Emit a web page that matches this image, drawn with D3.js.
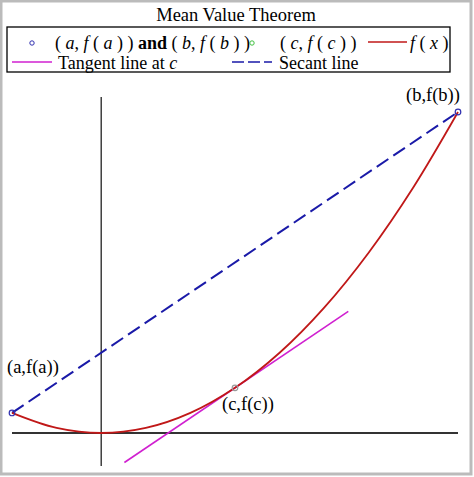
<!DOCTYPE html><html><head><meta charset="utf-8"><script src="https://cdn.jsdelivr.net/npm/d3@7"></script>
<style>body{margin:0;background:#fff}text{font-family:"Liberation Serif",serif;}</style></head><body><svg id="c" width="474" height="477"></svg><script>
const curveX=[-1,-0.5,0,0.5,1,1.5,2,2.5,3,3.5,4];
const curveY=[1,0.25,0,0.25,1,2.25,4,6.25,9,12.25,16];
const endpoints=[[-1,1],[4,16]];
const cpoint=[1.5,2.25];
const tangentX=[0.26,2.77], tangentSlope=3;
const svg=d3.select("#c");
const x=d3.scaleLinear().domain([-1,4]).range([12,458]);
const y=d3.scaleLinear().domain([0,16]).range([433,112]);
svg.append("rect").attr("x",1).attr("y",1).attr("width",470).attr("height",473).attr("fill","none").attr("stroke","#bbb").attr("stroke-width",3);
svg.append("line").attr("x1",x(0)).attr("x2",x(0)).attr("y1",97).attr("y2",466).attr("stroke","#222").attr("stroke-width",1.3);
svg.append("line").attr("x1",x(-1)).attr("x2",x(4)).attr("y1",y(0)).attr("y2",y(0)).attr("stroke","#333").attr("stroke-width",2);
svg.append("line").attr("x1",x(endpoints[0][0])).attr("y1",y(endpoints[0][1])).attr("x2",x(endpoints[1][0])).attr("y2",y(endpoints[1][1])).attr("stroke","#1a1aa8").attr("stroke-width",2).attr("stroke-dasharray","14,6");
svg.append("line").attr("x1",x(tangentX[0])).attr("y1",y(cpoint[1]+tangentSlope*(tangentX[0]-cpoint[0]))).attr("x2",x(tangentX[1])).attr("y2",y(cpoint[1]+tangentSlope*(tangentX[1]-cpoint[0]))).attr("stroke","#d020d0").attr("stroke-width",1.6);
svg.append("path").datum(curveX.map((d,i)=>[d,curveY[i]])).attr("d",d3.line().x(d=>x(d[0])).y(d=>y(d[1])).curve(d3.curveCatmullRom)).attr("fill","none").attr("stroke","#c01818").attr("stroke-width",1.8);
endpoints.forEach(p=>svg.append("circle").attr("cx",x(p[0])).attr("cy",y(p[1])).attr("r",2.8).attr("fill","none").attr("stroke","#3030b0").attr("stroke-width",1.2));
svg.append("circle").attr("cx",x(cpoint[0])).attr("cy",y(cpoint[1])).attr("r",2.8).attr("fill","none").attr("stroke","#999").attr("stroke-width",1.2);
const lab=(t,px,py)=>svg.append("text").attr("x",px).attr("y",py).attr("font-size",18.5).text(t);
lab("(a,f(a))",7,y(endpoints[0][1])-40);
lab("(b,f(b))",406,101);
lab("(c,f(c))",x(cpoint[0])-13,y(cpoint[1])+22);
svg.append("text").attr("x",236).attr("y",21).attr("text-anchor","middle").attr("font-size",18.5).text("Mean Value Theorem");
svg.append("rect").attr("x",7).attr("y",27).attr("width",443).attr("height",45).attr("fill","none").attr("stroke","#000").attr("stroke-width",1.3);
function math(g,parts,px,py){const t=g.append("text").attr("x",px).attr("y",py).attr("font-size",18).attr("xml:space","preserve");parts.forEach(([s,st])=>{const ts=t.append("tspan").text(s);if(st==="i")ts.attr("font-style","italic");if(st==="b")ts.attr("font-weight","bold");});}
svg.append("circle").attr("cx",32).attr("cy",43).attr("r",2.2).attr("fill","none").attr("stroke","#3030b0");
math(svg,[["( "],["a","i"],[", "],["f","i"],[" ( "],["a","i"],[" ) ) "],["and","b"],[" ( "],["b","i"],[", "],["f","i"],[" ( "],["b","i"],[" ) )"]],55,49);
svg.append("circle").attr("cx",252).attr("cy",43).attr("r",2.2).attr("fill","none").attr("stroke","#40c040");
math(svg,[["( "],["c","i"],[", "],["f","i"],[" ( "],["c","i"],[" ) )"]],280,49);
svg.append("line").attr("x1",368).attr("x2",407).attr("y1",42).attr("y2",42).attr("stroke","#c01818").attr("stroke-width",1.5);
math(svg,[["f","i"],[" ( "],["x","i"],[" )"]],410,49);
svg.append("line").attr("x1",12).attr("x2",52).attr("y1",62).attr("y2",62).attr("stroke","#d020d0").attr("stroke-width",1.5);
math(svg,[["Tangent line at "],["c","i"]],58,69);
svg.append("line").attr("x1",232).attr("x2",272).attr("y1",62).attr("y2",62).attr("stroke","#1a1aa8").attr("stroke-width",1.5).attr("stroke-dasharray","12,4");
math(svg,[["Secant line"]],279,69);
</script></body></html>
